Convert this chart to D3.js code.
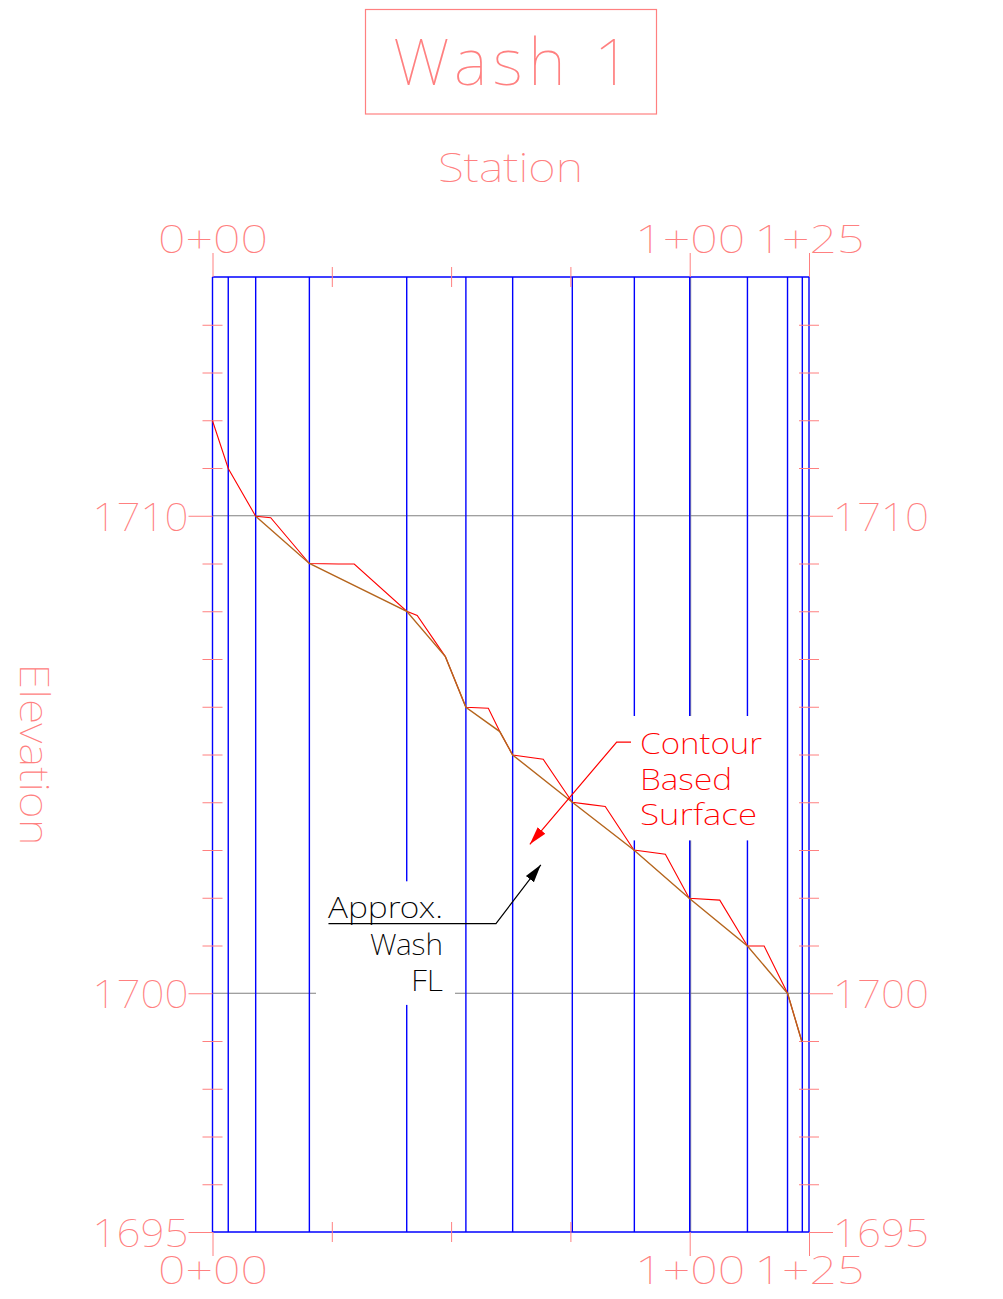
<!DOCTYPE html>
<html><head><meta charset="utf-8">
<script src="https://cdn.jsdelivr.net/npm/d3@7"></script>
<style>html,body{margin:0;padding:0;background:#fff;}svg{display:block;}</style>
</head><body>
<script>
// ---------- data ----------
const stationDomain = [0, 125];
const elevDomain = [1695, 1715];
const sampleStations = [0, 3.3, 9.05, 20.3, 40.7, 53.1, 62.9, 75.4, 88.4, 100, 112.1, 120.5, 123.6, 125];
const surfaceStations = [0, 3.3, 9.05, 12.2, 20.3, 26.4, 29.7, 40.7, 42.9, 48.8, 53.1, 57.8, 60.2, 62.9, 69.3, 75.4, 78.4, 82.3, 88.3, 94.9, 99.9, 106.3, 112.1, 115.6, 120.5, 123.5];
const surfaceElevs = [1711.99, 1710.99, 1709.99, 1709.96, 1709.0, 1708.99, 1708.99, 1708.0, 1707.91, 1707.05, 1705.99, 1705.97, 1705.48, 1704.99, 1704.9, 1704.0, 1703.96, 1703.91, 1703.0, 1702.91, 1701.99, 1701.95, 1700.99, 1700.99, 1700.0, 1698.99];
const flowlineStations = [9.05, 20.3, 40.7, 48.8, 53.1, 60.2, 62.9, 75.4, 88.3, 99.9, 112.1, 120.5, 123.5];
const flowlineElevs = [1709.99, 1709.0, 1708.0, 1707.05, 1705.99, 1705.48, 1704.99, 1704.0, 1703.0, 1701.99, 1700.99, 1700.0, 1698.99];
const stationMajorTicks = [0, 100, 125];
const stationMinorTicks = [25, 50, 75];
const stationLabels = ["0+00", "1+00", "1+25"];
const elevMajorTicks = [1695, 1700, 1710];
const elevMinorTicks = [1696, 1697, 1698, 1699, 1701, 1702, 1703, 1704, 1705, 1706, 1707, 1708, 1709, 1711, 1712, 1713, 1714];
const elevLabels = ["1695", "1700", "1710"];
const gridElevs = [1700, 1710];
const gridStations = [100];
const titleText = "Wash 1";
const xTitle = "Station";
const yTitle = "Elevation";
const surfaceNote = ["Contour", "Based", "Surface"];
const flowlineNote = ["Approx.", "Wash", "FL"];
// leader points [station, elevation]
const surfaceLeader = [[87.7, 1705.26], [84.7, 1705.26], [66.5, 1703.12]];
const flowlineLeader = [[24.3, 1701.46], [59.4, 1701.46], [68.8, 1702.69]];

// ---------- setup ----------
const W = 1003, H = 1299;
const PINK = "#ff8080", BLUE = "#0000ff", GRAY = "#808080", RED = "#ff0000", BROWN = "#b5651d";
const FONT = "'Noto Sans', sans-serif";
const svg = d3.select("body").append("svg").attr("width", W).attr("height", H)
  .style("font-family", FONT).style("font-weight", 100);

const x = d3.scaleLinear().domain(stationDomain).range([212.5, 809]);
const y = d3.scaleLinear().domain(elevDomain).range([1232, 277]);

const defs = svg.append("defs");
function marker(id, color) {
  defs.append("marker").attr("id", id).attr("markerUnits", "userSpaceOnUse")
    .attr("viewBox", "0 -6 18 12").attr("refX", 18).attr("refY", 0)
    .attr("markerWidth", 18).attr("markerHeight", 12).attr("orient", "auto")
    .append("path").attr("d", "M0,-5L18,0L0,5Z").attr("fill", color);
}
marker("arrRed", RED);
marker("arrBlack", "#000");

// ---------- annotation text blocks (first, to compute masks) ----------
const noteSize = 30;
const sWidths = [122, 92, 117];
const sNote = svg.append("text").attr("class", "snote")
  .attr("font-size", noteSize).attr("font-weight", 200).attr("fill", RED);
sNote.selectAll("tspan").data(surfaceNote).join("tspan")
  .attr("x", 640).attr("y", (d, i) => 754 + i * 35.7)
  .attr("textLength", (d, i) => sWidths[i]).attr("lengthAdjust", "spacingAndGlyphs")
  .text(d => d);

const fWidths = [115, 73, 32];
const fNote = svg.append("text").attr("class", "fnote")
  .attr("font-size", noteSize).attr("font-weight", 200).attr("fill", "#000")
  .attr("text-anchor", "end");
fNote.selectAll("tspan").data(flowlineNote).join("tspan")
  .attr("x", 443).attr("y", (d, i) => 918.3 + i * 36.3)
  .attr("textLength", (d, i) => fWidths[i]).attr("lengthAdjust", "spacingAndGlyphs")
  .text(d => d);

// masks where annotation text interrupts the grid
const mask = defs.append("mask").attr("id", "gridMask").attr("maskUnits", "userSpaceOnUse")
  .attr("x", 0).attr("y", 0).attr("width", W).attr("height", H);
mask.append("rect").attr("width", W).attr("height", H).attr("fill", "#fff");
[[sNote, 12, 6], [fNote, 12, 5]].forEach(([g, px, py]) => {
  const b = g.node().getBBox();
  mask.append("rect").attr("x", b.x - px).attr("y", b.y - py)
    .attr("width", b.width + 2 * px).attr("height", b.height + 2 * py).attr("fill", "#000");
});

// ---------- grid / sample lines ----------
const grid = svg.insert("g", ".snote").attr("mask", "url(#gridMask)");
grid.selectAll("line.hg").data(gridElevs).join("line").attr("class", "hg")
  .attr("x1", x(stationDomain[0])).attr("x2", x(stationDomain[1]))
  .attr("y1", d => y(d)).attr("y2", d => y(d))
  .attr("stroke", GRAY).attr("stroke-width", 1.2);
grid.selectAll("line.vg").data(gridStations).join("line").attr("class", "vg")
  .attr("x1", d => x(d) + 1).attr("x2", d => x(d) + 1)
  .attr("y1", y(elevDomain[0])).attr("y2", y(elevDomain[1]))
  .attr("stroke", GRAY).attr("stroke-width", 1);
grid.selectAll("line.samp").data(sampleStations).join("line").attr("class", "samp")
  .attr("x1", d => x(d)).attr("x2", d => x(d))
  .attr("y1", y(elevDomain[0])).attr("y2", y(elevDomain[1]))
  .attr("stroke", BLUE).attr("stroke-width", 1.4);
grid.selectAll("line.border").data(elevDomain).join("line").attr("class", "border")
  .attr("x1", x(stationDomain[0])).attr("x2", x(stationDomain[1]))
  .attr("y1", d => y(d)).attr("y2", d => y(d))
  .attr("stroke", BLUE).attr("stroke-width", 1.4);

// ---------- axes ----------
function styleAxis(g, size) {
  g.select(".domain").remove();
  g.selectAll("line").attr("stroke", PINK).attr("stroke-width", 1);
  g.selectAll("text").attr("fill", PINK).attr("font-size", size)
    .attr("font-family", FONT).attr("font-weight", 100);
}
const lblSize = 39;
function minor(axisFn, values, transform, a1, a2) {
  const g = svg.append("g").attr("transform", transform)
    .call(axisFn.tickValues(values).tickSize(10).tickFormat(""));
  styleAxis(g, lblSize);
  g.selectAll(".tick line").attr(a1, -10).attr(a2, 10);
  return g;
}
minor(d3.axisLeft(y), elevMinorTicks, `translate(${x(0)},0)`, "x1", "x2");
minor(d3.axisRight(y), elevMinorTicks, `translate(${x(125)},0)`, "x1", "x2");
minor(d3.axisTop(x), stationMinorTicks, `translate(0,${y(1715)})`, "y1", "y2");
minor(d3.axisBottom(x), stationMinorTicks, `translate(0,${y(1695)})`, "y1", "y2");

const elevFmt = d => elevLabels[elevMajorTicks.indexOf(d)];
const staFmt = d => stationLabels[stationMajorTicks.indexOf(d)];
function major(axisFn, values, fmt, transform, len) {
  const g = svg.append("g").attr("transform", transform)
    .call(axisFn.tickValues(values).tickSize(24).tickPadding(0).tickFormat(fmt));
  styleAxis(g, lblSize);
  g.selectAll("text").attr("textLength", len).attr("lengthAdjust", "spacingAndGlyphs");
  return g;
}
major(d3.axisLeft(y), elevMajorTicks, elevFmt, `translate(${x(0)},0)`, 96).selectAll("text").attr("dy", "0.37em");
major(d3.axisRight(y), elevMajorTicks, elevFmt, `translate(${x(125)},0)`, 96).selectAll("text").attr("dy", "0.37em");
major(d3.axisTop(x), stationMajorTicks, staFmt, `translate(0,${y(1715)})`, 110);
major(d3.axisBottom(x), stationMajorTicks, staFmt, `translate(0,${y(1695)})`, 110);

// ---------- profiles ----------
const line = d3.line().x(d => x(d[0])).y(d => y(d[1]));
svg.append("path").datum(surfaceStations.map((s, i) => [s, surfaceElevs[i]]))
  .attr("d", line).attr("fill", "none").attr("stroke", RED).attr("stroke-width", 1.1);
svg.append("path").datum(flowlineStations.map((s, i) => [s, flowlineElevs[i]]))
  .attr("d", line).attr("fill", "none").attr("stroke", BROWN).attr("stroke-width", 1.4);

// ---------- leaders ----------
svg.append("path").datum(surfaceLeader).attr("d", line).attr("fill", "none")
  .attr("stroke", RED).attr("stroke-width", 1.2).attr("marker-end", "url(#arrRed)");
svg.append("path").datum(flowlineLeader).attr("d", line).attr("fill", "none")
  .attr("stroke", "#000").attr("stroke-width", 1.2).attr("marker-end", "url(#arrBlack)");

// ---------- titles ----------
svg.append("rect").attr("x", 365.5).attr("y", 9.5).attr("width", 291).attr("height", 104.5)
  .attr("fill", "none").attr("stroke", PINK).attr("stroke-width", 1.2);
svg.append("text").attr("x", 393).attr("y", 85).attr("font-size", 65).attr("fill", PINK)
  .attr("textLength", 238).attr("lengthAdjust", "spacing").text(titleText);
svg.append("text").attr("x", (438 + 583) / 2).attr("y", 181.7).attr("text-anchor", "middle")
  .attr("font-size", 41).attr("fill", PINK)
  .attr("textLength", 145).attr("lengthAdjust", "spacingAndGlyphs").text(xTitle);
svg.append("text").attr("transform", `translate(20,${(y(1695) + y(1715)) / 2}) rotate(90)`)
  .attr("text-anchor", "middle").attr("font-size", 41).attr("fill", PINK)
  .attr("textLength", 182).attr("lengthAdjust", "spacingAndGlyphs").text(yTitle);
</script>
</body></html>
